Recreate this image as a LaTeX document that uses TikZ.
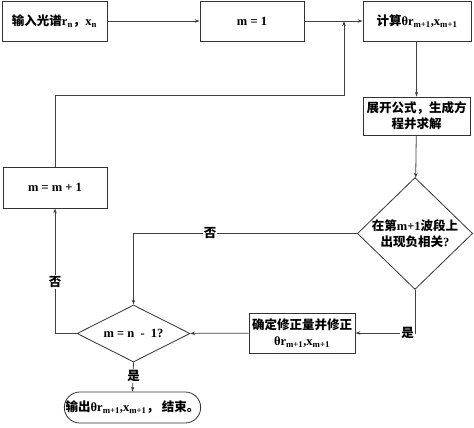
\documentclass[tikz,border=0pt]{standalone}
\usepackage{fontspec}
\setmainfont{Liberation Serif}
\newfontfamily\cjk{Noto Sans CJK SC}
\usetikzlibrary{shapes.geometric,shapes.misc,arrows.meta}
\newcommand{\zh}[1]{{\cjk\bfseries #1}}
\begin{document}
\begin{tikzpicture}[x=1pt,y=-1pt,
  every node/.style={font=\fontsize{12.5}{16}\selectfont\bfseries},
  box/.style={draw=black!80,line width=0.8pt,rectangle,inner sep=0pt,align=center},
  dia/.style={draw=black!80,line width=0.8pt,diamond,inner sep=0pt,align=center},
  term/.style={draw=black!80,line width=0.8pt,rounded rectangle,inner sep=0pt,align=center},
  conn/.style={draw=black!75,line width=0.8pt},
  arr/.style={conn,-{Stealth[length=5pt,width=3.5pt]}},
  lab/.style={fill=white,inner sep=1pt}]
\useasboundingbox (0,0) rectangle (474,428);
\node[box,minimum width=105pt,minimum height=40pt] (b1) at (54.5,21) {\zh{输入光谱}r\textsubscript{n}\zh{，}x\textsubscript{n}};
\node[box,minimum width=104pt,minimum height=40pt] (b2) at (252,21) {m = 1};
\node[box,minimum width=108pt,minimum height=40pt] (b3) at (417,21) {\zh{计算}θr\textsubscript{m+1},x\textsubscript{m+1}};
\node[box,minimum width=107pt,minimum height=38pt] (b4) at (416.5,116) {\zh{展开公式，生成方}\\\zh{程并求解}};
\node[dia,minimum width=110pt,minimum height=107pt,aspect=1.03] (d1) at (415,233.5) {\zh{在第}m+1\zh{波段上}\\\zh{出现负相关}?};
\node[box,minimum width=106pt,minimum height=40pt] (b5) at (302,333) {\zh{确定修正量并修正}\\θr\textsubscript{m+1},x\textsubscript{m+1}};
\node[dia,minimum width=113pt,minimum height=57pt,aspect=2] (d2) at (133.5,333.5) {m = n \ - \ 1?};
\node[box,minimum width=104pt,minimum height=41pt] (b6) at (55,187.5) {m = m + 1};
\node[term,minimum width=131pt,minimum height=31pt] (t) at (132.5,407.5) {\zh{输出}θr\textsubscript{m+1},x\textsubscript{m+1}\zh{，\ 结束。}};
\coordinate (j) at (344,21);
\coordinate (jl) at (344,95);
\coordinate (n1) at (133.5,233.5);
\coordinate (c1) at (415,333);
\draw[arr] (b1) -- (b2);
\draw[arr] (b2) -- (b3);
\draw[arr] (b3.south -| b4.north) -- (b4.north);
\draw[arr] (b4) -- (d1);
\draw[arr] (d1.south) -- (c1) -- (b5.east);
\node[lab,anchor=east] at (c1) {\zh{是}};
\draw[arr] (b5) -- (d2);
\draw[arr] (d1.west) -- (n1) -- (d2.north);
\node[lab] at (210,233.5) {\zh{否}};
\draw[arr] (d2.west) -| (b6.south);
\node[lab] at (55,282) {\zh{否}};
\draw[arr] (b6.north) |- (jl) -- (j);
\draw[arr] (d2.south) -- (t.north);
\node[lab] at (133.5,376) {\zh{是}};
\end{tikzpicture}
\end{document}
